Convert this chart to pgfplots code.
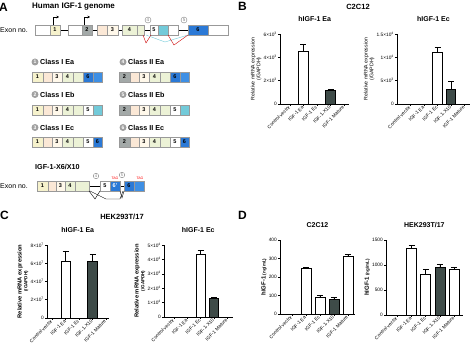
\documentclass[border=0pt]{standalone}
\usepackage{fontspec}
\setmainfont{Liberation Sans}
\usepackage{pgfplots}
\pgfplotsset{compat=1.18}
\usetikzlibrary{arrows.meta}

\definecolor{exone}{HTML}{F6F2CC}
\definecolor{peach}{HTML}{FBE8D6}
\definecolor{cream}{HTML}{FFF8EA}
\definecolor{lgreen}{HTML}{ECF2D6}
\definecolor{gtwo}{HTML}{A3A9A8}
\definecolor{cyanx}{HTML}{72CAD9}
\definecolor{bsix}{HTML}{2B79D6}
\definecolor{bsev}{HTML}{3E8FE4}
\definecolor{xten}{HTML}{3E4B48}

\newcommand{\seg}[5]{%
  \draw[draw=gray!80, line width=0.3pt, fill=#4] ({#1},{#2}) rectangle ++(#3,10);
  \node[font=\fontsize{5.5}{6}\bfseries\selectfont, inner sep=0pt] at ({#1+#3/2},{#2+5}) {#5};}
\newcommand{\classrow}[8]{%
  \seg{#1}{#2}{11}{#3}{#4}
  \seg{#1+11}{#2}{9}{peach}{}
  \seg{#1+20}{#2}{10}{cream}{3}
  \seg{#1+30}{#2}{11}{lgreen}{4}
  \seg{#1+41}{#2}{10}{lgreen}{}
  \seg{#1+51}{#2}{10}{#5}{#6}
  \seg{#1+61}{#2}{9}{#7}{#8}}
\newcommand{\ctitle}[4]{%
  \node[circle, fill=gray!75, text=white, inner sep=0pt, minimum size=7pt, font=\fontsize{5}{5}\bfseries\selectfont] at (#1,#2) {#3};
  \node[anchor=west, font=\fontsize{7.2}{8}\bfseries\selectfont, inner sep=0pt] at ({#1+5},#2) {#4};}

\pgfplotsset{
  gp/.style={scale only axis, anchor=south west, ymin=0, clip=false,
    axis lines=left, axis line style={-, line width=0.6pt},
    every tick/.style={black, line width=0.6pt}, major tick length=2pt, tick align=outside,
    scaled y ticks=false,
    xtick={0,1,2,3,4},
    xticklabels={Control vector, IGF-1 Ea, IGF-1 Ec, IGF-1-X10, IGF-1 Mature},
    xticklabel style={rotate=45, anchor=east, font=\fontsize{4.8}{5}\selectfont, inner sep=0.8pt},
    yticklabel style={font=\fontsize{4.8}{5}\selectfont, inner sep=1pt},
    ylabel style={font=\fontsize{5.2}{5.8}\selectfont, align=center, inner sep=1pt},
    title style={font=\fontsize{7}{8}\bfseries\selectfont, yshift=3pt},
  },
  wb/.style={ybar, bar width=9.5pt, fill=white, draw=black, line width=0.6pt,
    error bars/y dir=plus, error bars/y explicit,
    error bars/error bar style={line width=0.6pt, black},
    error bars/error mark options={rotate=90, mark size=3pt, line width=0.6pt, black}},
  db/.style={wb, fill=xten},
}

\begin{document}
\begin{tikzpicture}
\path[use as bounding box] (0,0) rectangle (474pt,-347pt);
\begin{scope}[x=1pt,y=-1pt]
% panel letters
\node[anchor=west, font=\fontsize{12}{12}\bfseries\selectfont, inner sep=0pt] at (-1,7) {A};
\node[anchor=west, font=\fontsize{12}{12}\bfseries\selectfont, inner sep=0pt] at (238,6) {B};
\node[anchor=west, font=\fontsize{12}{12}\bfseries\selectfont, inner sep=0pt] at (0,215) {C};
\node[anchor=west, font=\fontsize{12}{12}\bfseries\selectfont, inner sep=0pt] at (238,215) {D};
\node[font=\fontsize{7.5}{8}\bfseries\selectfont] at (358,7) {C2C12};
\node[font=\fontsize{7.5}{8}\bfseries\selectfont] at (122,217) {HEK293T/17};
% genome
\node[anchor=west, font=\fontsize{8}{9}\bfseries\selectfont, inner sep=0pt] at (32,7) {Human IGF-1 genome};
\node[anchor=west, font=\fontsize{7}{8}\selectfont, inner sep=0pt] at (0,30) {Exon no.};
\draw[line width=0.8pt] (60,30) -- (68,30) (92,30) -- (97,30) (118,30) -- (122,30) (144,30) -- (150,30) (178,30) -- (188,30);
\seg{35}{25}{15}{white}{}
\seg{50}{25}{10}{exone}{1}
\seg{68}{25}{14}{white}{}
\seg{82}{25}{10}{gtwo}{2}
\seg{97}{25}{10}{peach}{}
\seg{107}{25}{11}{cream}{3}
\seg{122}{25}{15}{lgreen}{4}
\seg{137}{25}{7}{lgreen}{}
\seg{150}{25}{8}{white}{5}
\seg{158}{25}{10}{cyanx}{}
\seg{168}{25}{10}{white}{}
\seg{188}{25}{20}{bsix}{6}
\seg{208}{25}{20}{white}{}
\draw[line width=0.6pt, -{Stealth[length=2.5pt,width=2.5pt]}] (53,25) -- (53,17) -- (59,17);
\draw[line width=0.6pt, -{Stealth[length=2.5pt,width=2.5pt]}] (84,25) -- (84,17) -- (90,17);
\node[circle, draw=gray, inner sep=0pt, minimum size=6pt, text=gray, font=\fontsize{4.5}{5}\selectfont] at (148,20) {4};
\node[circle, draw=gray, inner sep=0pt, minimum size=6pt, text=gray, font=\fontsize{4.5}{5}\selectfont] at (184,20) {5};
\draw[red!80!black, line width=0.4pt] (143,35) -- (146,43) -- (151,35);
\draw[cyanx, line width=0.4pt] (146,35) -- (165,42) -- (188,35);
\draw[red!80!black, line width=0.4pt] (168,35) -- (174,45) -- (188,35);
% classes
\ctitle{35}{62}{1}{Class I Ea}
\ctitle{123}{62}{4}{Class II Ea}
\classrow{32}{72}{exone}{1}{bsix}{6}{bsev}{}
\classrow{119}{72}{gtwo}{2}{bsix}{6}{bsev}{}
\ctitle{35}{94.5}{2}{Class I Eb}
\ctitle{123}{94.5}{5}{Class II Eb}
\classrow{32}{105}{exone}{1}{white}{5}{cyanx}{}
\classrow{119}{105}{gtwo}{2}{white}{5}{cyanx}{}
\ctitle{35}{127.5}{3}{Class I Ec}
\ctitle{123}{127.5}{6}{Class II Ec}
\classrow{32}{137}{exone}{1}{white}{5}{bsix}{6}
\classrow{119}{137}{gtwo}{2}{white}{5}{bsix}{6}
% X6/X10
\node[anchor=west, font=\fontsize{7.2}{8}\bfseries\selectfont, inner sep=0pt] at (35,167) {IGF-1-X6/X10};
\node[anchor=west, font=\fontsize{7}{8}\selectfont, inner sep=0pt] at (0,186) {Exon no.};
\draw[line width=0.8pt] (89,186) -- (100,186) (120,186) -- (124,186);
\seg{37}{181}{11}{exone}{1}
\seg{48}{181}{8}{peach}{}
\seg{56}{181}{9}{cream}{3}
\seg{65}{181}{10}{lgreen}{4}
\seg{75}{181}{14}{lgreen}{}
\seg{100}{181}{10}{white}{5}
\seg{110}{181}{10}{bsix}{\textcolor{white}{6'}}
\seg{124}{181}{10}{bsix}{6}
\seg{134}{181}{10}{bsev}{}
\node[circle, draw=gray, inner sep=0pt, minimum size=5.5pt, text=gray, font=\fontsize{4}{4}\selectfont] at (96,176) {4};
\node[circle, draw=gray, inner sep=0pt, minimum size=5.5pt, text=gray, font=\fontsize{4}{4}\selectfont] at (122,175) {5};
\node[text=red, font=\fontsize{3.5}{4}\selectfont, inner sep=0pt] at (115,178) {TAG};
\node[text=red, font=\fontsize{3.5}{4}\selectfont, inner sep=0pt] at (140,178) {TAG};
\draw[line width=0.4pt] (89,191) -- (95,199) -- (100,191);
\draw[line width=0.4pt] (90,191) -- (106,199) -- (120,199) -- (123,191);
\draw[line width=0.4pt] (120,191) -- (122,198) -- (124,191);
\end{scope}

% ---- B left
\begin{axis}[gp, at={(280pt,-104pt)}, width=69.4pt, height=70pt,
  xmin=-0.74, xmax=4.4, ymax=6000, ytick={0,2000,4000,6000},
  yticklabels={0,2×10\textsuperscript{3},4×10\textsuperscript{3},6×10\textsuperscript{3}},
  ylabel={Relative mRNA expression\\(/GAPDH)}, title={hIGF-1 Ea}]
\addplot[wb] coordinates {(1,4500) += (0,600)};
\addplot[db] coordinates {(3,1200) += (0,50)};
\end{axis}
% ---- B right
\begin{axis}[gp, at={(397pt,-104pt)}, width=72.9pt, height=70pt,
  xmin=-1, xmax=4.4, ymax=15000, ytick={0,5000,10000,15000},
  yticklabels={0,5×10\textsuperscript{3},1×10\textsuperscript{4},1.5×10\textsuperscript{4}},
  ylabel={Relative mRNA expression\\(/GAPDH)}, title={hIGF-1 Ec}]
\addplot[wb] coordinates {(2,11000) += (0,1100)};
\addplot[db] coordinates {(3,3100) += (0,1800)};
\end{axis}
% ---- C left
\begin{axis}[gp, at={(47pt,-318pt)}, width=61.6pt, height=73pt,
  xmin=-0.4, xmax=4.2, ymax=8, ytick={0,2,4,6,8},
  yticklabels={0,2×10\textsuperscript{7},4×10\textsuperscript{7},6×10\textsuperscript{7},8×10\textsuperscript{7}},
  ylabel={{\fontsize{5.8}{6.4}\bfseries\selectfont Relative mRNA expression}\\{\fontsize{4.5}{5}\bfseries\selectfont (/GAPDH)}}, title={hIGF-1 Ea}]
\addplot[wb] coordinates {(1,6.2) += (0,1.15)};
\addplot[db] coordinates {(3,6.25) += (0,0.75)};
\end{axis}
% ---- C right
\begin{axis}[gp, at={(164pt,-317pt)}, width=68.5pt, height=72pt,
  xmin=-0.75, xmax=4.4, ymax=5, ytick={0,1,2,3,4,5},
  yticklabels={0,1×10\textsuperscript{4},2×10\textsuperscript{4},3×10\textsuperscript{4},4×10\textsuperscript{4},5×10\textsuperscript{4}},
  ylabel={{\fontsize{5.8}{6.4}\bfseries\selectfont Relative mRNA expression}\\{\fontsize{4.5}{5}\bfseries\selectfont (/GAPDH)}}, title={hIGF-1 Ec}]
\addplot[wb] coordinates {(2,4.35) += (0,0.25)};
\addplot[db] coordinates {(3,1.3) += (0,0.08)};
\end{axis}
% ---- D left
\begin{axis}[gp, at={(280pt,-314pt)}, width=74.9pt, height=74pt,
  xmin=-0.85, xmax=4.5, ymax=400, ytick={0,100,200,300,400},
  yticklabels={0,100,200,300,400},
  ylabel={{\fontsize{6}{6.5}\bfseries\selectfont hIGF-1} {\fontsize{4.5}{5}\bfseries\selectfont(ng/mL)}}, title={C2C12}]
\addplot[wb, bar width=10pt] coordinates {(1,245) += (0,8) (2,90) += (0,9) (4,312) += (0,9)};
\addplot[db, bar width=10pt] coordinates {(3,82) += (0,8)};
\end{axis}
% ---- D right
\begin{axis}[gp, at={(386pt,-315pt)}, width=76.7pt, height=75pt,
  xmin=-0.8, xmax=4.6, ymax=1500, ytick={0,500,1000,1500},
  yticklabels={0,500,1000,1500},
  ylabel={{\fontsize{6}{6.5}\bfseries\selectfont hIGF-1} {\fontsize{4.5}{5}\bfseries\selectfont(ng/mL)}}, title={HEK293T/17}]
\addplot[wb, bar width=10pt] coordinates {(1,1340) += (0,55) (2,820) += (0,95) (4,920) += (0,40)};
\addplot[db, bar width=10pt] coordinates {(3,960) += (0,60)};
\end{axis}
\end{tikzpicture}
\end{document}
